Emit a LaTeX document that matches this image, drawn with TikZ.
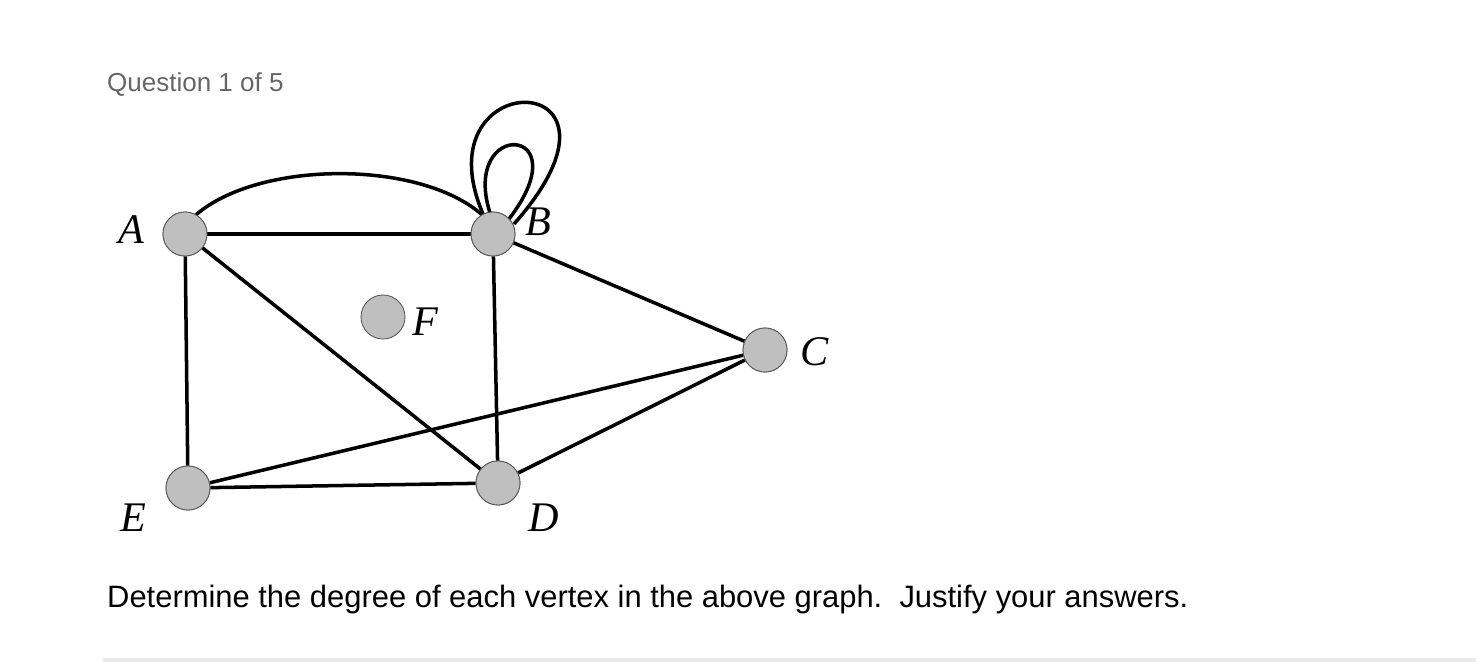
\documentclass[tikz,border=0pt]{standalone}
\usepackage{fontspec}
\setmainfont{Liberation Serif}
\newfontfamily\uisans{Liberation Sans}
\begin{document}
\begin{tikzpicture}[x=0.02cm,y=-0.02cm,
  vtx/.style={circle,fill=gray!50,draw=gray!70!black,line width=0.5pt,minimum size=0.88cm,inner sep=0pt},
  lab/.style={font=\fontsize{24}{24}\selectfont\itshape},
  edge/.style={line width=2pt}]
\useasboundingbox (0,0) rectangle (1476,662);
\node[anchor=west,text=black!60,font=\uisans\fontsize{14.8}{16}\selectfont] (q) at (101,85) {Question 1 of 5};
\node[vtx] (A) at (185,234) {};
\node[vtx] (B) at (493,234) {};
\node[vtx] (C) at (765,350) {};
\node[vtx] (D) at (498,483) {};
\node[vtx] (E) at (188,488) {};
\node[vtx] (F) at (383,317) {};
\node[lab] (lA) at (131,230) {A};
\node[lab] (lB) at (538,222) {B};
\node[lab] (lC) at (815,352) {C};
\node[lab] (lD) at (544,518) {D};
\node[lab] (lE) at (133,518) {E};
\node[lab] (lF) at (425,322) {F};
\coordinate (o1) at (483,214);
\coordinate (o2) at (514,224);
\coordinate (i1) at (490,213);
\coordinate (i2) at (509,219);
\draw[edge] (A) -- (B);
\draw[edge] (A) -- (E);
\draw[edge] (A) -- (D);
\draw[edge] (B) -- (D);
\draw[edge] (B) -- (C);
\draw[edge] (E) -- (C);
\draw[edge] (D) -- (C);
\draw[edge] (E) -- (D);
\draw[edge] (A.60) .. controls (260,160) and (420,160) .. (B.120);
\draw[edge] (o1) .. controls (418,62) and (655,65) .. (o2);
\draw[edge] (i1) .. controls (460,118) and (582,124) .. (i2);
\node[vtx] at (A) {};
\node[vtx] at (B) {};
\node[vtx] at (C) {};
\node[vtx] at (D) {};
\node[vtx] at (E) {};
\node[anchor=west,font=\uisans\fontsize{17.6}{20}\selectfont] (t) at (101,599) {Determine the degree of each vertex in the above graph.\ \ Justify your answers.};
\coordinate (l1) at (103,660);
\coordinate (l2) at (1476,660);
\draw[black!8,line width=2pt] (l1) -- (l2);
\end{tikzpicture}
\end{document}
